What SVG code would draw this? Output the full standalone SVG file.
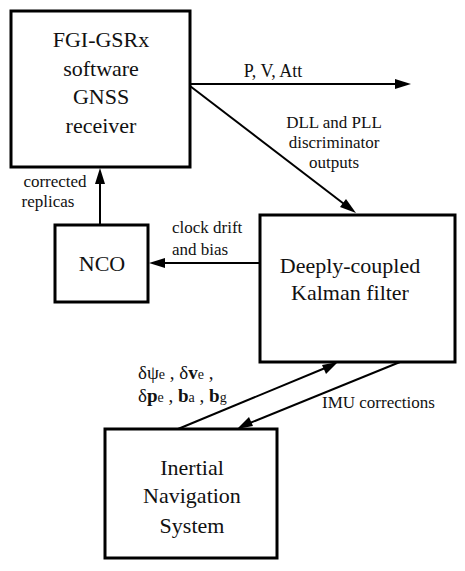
<svg xmlns="http://www.w3.org/2000/svg" width="465" height="571" viewBox="0 0 465 571">
<style>
.box{fill:#fff;stroke:#000;stroke-width:3}
.big{font-family:"Liberation Serif","Times New Roman",serif;font-size:22px;fill:#111;text-anchor:middle}
.lbl{font-family:"Liberation Serif","Times New Roman",serif;font-size:17px;fill:#111}
.c{text-anchor:middle}
.line{stroke:#000;stroke-width:2;fill:none}
.gr{font-size:19px}
.sub{font-size:14px}
.b{font-weight:bold}
</style>
<rect width="465" height="571" fill="#fff"/>
<g id="connectors">
<line class="line" x1="190" y1="84" x2="400" y2="84"/>
<path d="M411,84 L395,79 L395,89 Z" fill="#000"/>
<line class="line" x1="190" y1="86" x2="348" y2="207"/>
<path d="M356,213 L340,207 L346,199 Z" fill="#000"/>
<line class="line" x1="100" y1="225" x2="100" y2="178"/>
<path d="M100,168 L95,184 L105,184 Z" fill="#000"/>
<line class="line" x1="260" y1="263" x2="158" y2="263"/>
<path d="M149,263 L165,258 L165,268 Z" fill="#000"/>
<line class="line" x1="178" y1="429" x2="330" y2="366"/>
<path d="M338,362 L326,374 L322,365 Z" fill="#000"/>
<line class="line" x1="400" y1="362" x2="245" y2="425"/>
<path d="M237,429 L249,417 L253,426 Z" fill="#000"/>
<text class="lbl c" x="273" y="77" style="font-size:18px">P, V, Att</text>
<text class="lbl c" x="334" y="128">DLL  and PLL</text>
<text class="lbl c" x="334" y="148">discriminator</text>
<text class="lbl c" x="334" y="168">outputs</text>
<text class="lbl c" x="55" y="187">corrected</text>
<text class="lbl c" x="48" y="207">replicas</text>
<text class="lbl" x="172" y="233">clock  drift</text>
<text class="lbl" x="172" y="255">and bias</text>
<text class="lbl gr" x="138" y="379">δψ<tspan class="sub">e</tspan> , δ<tspan class="b">v</tspan><tspan class="sub">e</tspan> ,</text>
<text class="lbl gr" x="138" y="402">δ<tspan class="b">p</tspan><tspan class="sub">e</tspan> , <tspan class="b">b</tspan><tspan class="sub">a</tspan> , <tspan class="b">b</tspan><tspan class="sub">g</tspan></text>
<text class="lbl" x="322" y="408">IMU corrections</text>
</g>
<g id="gsrx">
<rect class="box" x="11" y="11" width="179" height="156"/>
<text class="big" x="101" y="47">FGI-GSRx</text>
<text class="big" x="101" y="76">software</text>
<text class="big" x="101" y="104">GNSS</text>
<text class="big" x="101" y="133">receiver</text>
</g>
<g id="nco">
<rect class="box" x="55" y="225" width="93" height="77"/>
<text class="big" x="102" y="271">NCO</text>
</g>
<g id="kalman">
<rect class="box" x="260" y="215" width="195" height="147"/>
<text class="big" x="350" y="273">Deeply-coupled</text>
<text class="big" x="350" y="300">Kalman  filter</text>
</g>
<g id="ins">
<rect class="box" x="105" y="429" width="172" height="129"/>
<text class="big" x="192" y="475">Inertial</text>
<text class="big" x="192" y="503">Navigation</text>
<text class="big" x="192" y="533">System</text>
</g>
</svg>
